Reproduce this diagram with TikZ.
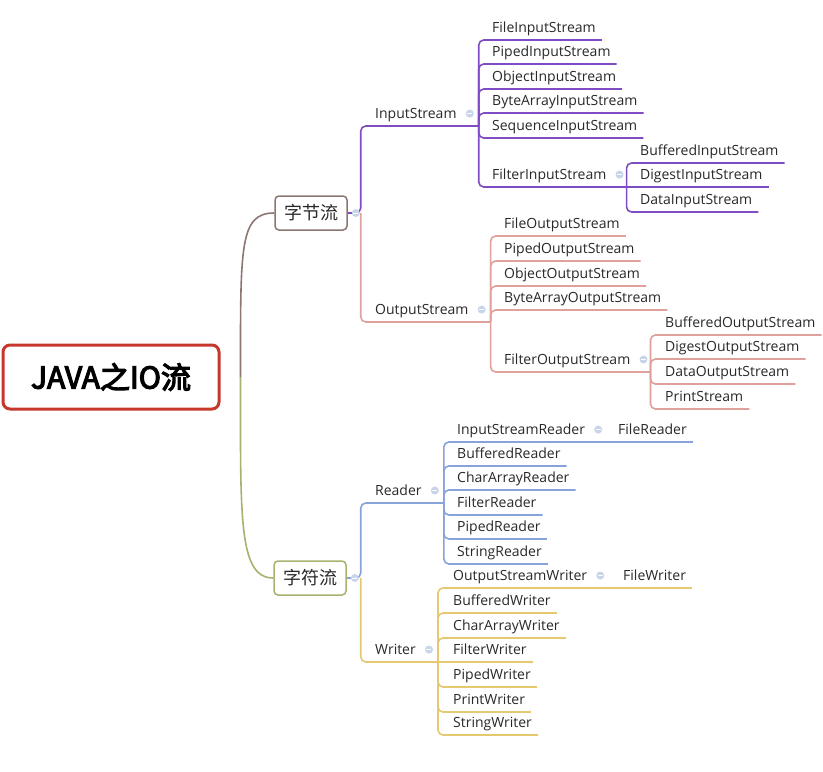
\documentclass[tikz,border=0pt]{standalone}
\usepackage{fontspec}
\setmainfont{Open Sans}
\newfontfamily\cjk{Noto Sans CJK SC}
\newfontfamily\cjkbold{Noto Sans CJK SC}[FakeBold=4]
\usetikzlibrary{calc}

\definecolor{txt}{RGB}{40,40,40}
\definecolor{rootred}{RGB}{198,56,44}
\definecolor{bytegray}{RGB}{140,118,114}
\definecolor{chargreen}{RGB}{170,176,110}
\definecolor{inpurple}{RGB}{128,76,196}
\definecolor{outpink}{RGB}{224,160,156}
\definecolor{rdblue}{RGB}{136,162,218}
\definecolor{wrgold}{RGB}{230,200,112}
\definecolor{markfill}{RGB}{200,212,234}

\tikzset{
  leaf/.style={anchor=south west, inner xsep=6pt, inner ysep=3.5pt, text height=10pt, text depth=3.5pt, text=txt, font=\fontsize{14}{16}\selectfont},
  topic/.style={draw, rounded corners=4pt, line width=1.5pt, minimum width=72pt, minimum height=34pt, text=txt, font=\cjk\fontsize{18}{21}\selectfont},
  minus/.style={circle, fill=markfill, minimum size=8pt, inner sep=0pt,
    path picture={\draw[white, line width=1pt] ([xshift=-2.5pt]path picture bounding box.center) -- ([xshift=2.5pt]path picture bounding box.center);}},
  br/.style={line width=1.6pt, rounded corners=5pt},
}

\begin{document}
\begin{tikzpicture}[x=1pt,y=-1pt]
  \useasboundingbox (0,0) rectangle (823,772);

  % main topics
  \node[draw=rootred, line width=3pt, rounded corners=7pt, minimum width=216pt, minimum height=64pt, text=black, font=\cjkbold\fontsize{30}{34}\selectfont] (root) at (111,377) {JAVA之IO流};
  \node[topic, draw=bytegray] (zjl) at (311,213) {字节流};
  \node[topic, draw=chargreen] (zfl) at (310,578) {字符流};

  \draw[line width=1.6pt, bytegray] ([xshift=20pt]root.east) .. controls +(0,-130) and +(-35,0) .. (zjl.west);
  \draw[line width=1.6pt, chargreen] ([xshift=20pt]root.east) .. controls +(0,140) and +(-35,0) .. (zfl.west);

  \coordinate (zjlF) at ([xshift=13pt]zjl.east);
  \coordinate (zflF) at ([xshift=14pt]zfl.east);

  % InputStream
  \node[leaf] (in) at (369,126) {InputStream};
  \coordinate (inF) at ([xshift=16pt]in.south east);
  \node[leaf] (fis) at (486,40) {FileInputStream};
  \node[leaf] (pis) at (486,64) {PipedInputStream};
  \node[leaf] (ois) at (486,89) {ObjectInputStream};
  \node[leaf] (bis) at (486,113) {ByteArrayInputStream};
  \node[leaf] (sis) at (486,138) {SequenceInputStream};
  \node[leaf] (flis) at (486,187) {FilterInputStream};
  \coordinate (flisF) at ([xshift=14pt]flis.south east);
  \node[leaf] (bufis) at (634,163) {BufferedInputStream};
  \node[leaf] (dgis) at (634,187) {DigestInputStream};
  \node[leaf] (dis) at (634,212) {DataInputStream};

  \draw[br, inpurple] (zjl.east) -- (zjlF) |- (inF);
  \foreach \n in {fis,pis,ois,bis,sis}
    \draw[br, inpurple] (inF) |- (\n.south east);
  \draw[br, inpurple] (inF) |- (flisF);
  \draw[br, inpurple] (flisF) |- (bufis.south east);
  \draw[br, inpurple] (flisF) -- (dgis.south east);
  \draw[br, inpurple] (flisF) |- (dis.south east);

  % OutputStream
  \node[leaf] (out) at (369,322) {OutputStream};
  \coordinate (outF) at ([xshift=16pt]out.south east);
  \node[leaf] (fos) at (498,236) {FileOutputStream};
  \node[leaf] (pos) at (498,261) {PipedOutputStream};
  \node[leaf] (oos) at (498,286) {ObjectOutputStream};
  \node[leaf] (bos) at (498,310) {ByteArrayOutputStream};
  \node[leaf] (flos) at (498,372) {FilterOutputStream};
  \coordinate (flosF) at ([xshift=14pt]flos.south east);
  \node[leaf] (bufos) at (659,335) {BufferedOutputStream};
  \node[leaf] (dgos) at (659,359) {DigestOutputStream};
  \node[leaf] (dos) at (659,384) {DataOutputStream};
  \node[leaf] (ps) at (659,409) {PrintStream};

  \draw[br, outpink] (zjlF) |- (outF);
  \foreach \n in {fos,pos,oos,bos}
    \draw[br, outpink] (outF) |- (\n.south east);
  \draw[br, outpink] (outF) |- (flosF);
  \foreach \n in {bufos,dgos,dos,ps}
    \draw[br, outpink] (flosF) |- (\n.south east);

  % Reader
  \node[leaf] (rd) at (369,503) {Reader};
  \coordinate (rdF) at ([xshift=16pt]rd.south east);
  \node[leaf] (isr) at (451,442) {InputStreamReader};
  \coordinate (isrF) at ([xshift=16pt]isr.south east);
  \node[leaf] (filerd) at (612,442) {FileReader};
  \node[leaf] (bufrd) at (451,466) {BufferedReader};
  \node[leaf] (carrd) at (451,490) {CharArrayReader};
  \node[leaf] (fltrd) at (451,515) {FilterReader};
  \node[leaf] (piprd) at (451,539) {PipedReader};
  \node[leaf] (strrd) at (451,564) {StringReader};

  \draw[br, rdblue] (zfl.east) -- (zflF) |- (rdF);
  \draw[br, rdblue] (rdF) |- (isrF);
  \foreach \n in {bufrd,carrd,fltrd,piprd,strrd}
    \draw[br, rdblue] (rdF) |- (\n.south east);
  \draw[br, rdblue] (isrF) -- (filerd.south east);

  % Writer
  \node[leaf] (wr) at (369,662) {Writer};
  \coordinate (wrF) at ([xshift=16pt]wr.south east);
  \node[leaf] (osw) at (447,588) {OutputStreamWriter};
  \coordinate (oswF) at ([xshift=16pt]osw.south east);
  \node[leaf] (filewr) at (617,588) {FileWriter};
  \node[leaf] (bufwr) at (447,613) {BufferedWriter};
  \node[leaf] (carwr) at (447,638) {CharArrayWriter};
  \node[leaf] (fltwr) at (447,662) {FilterWriter};
  \node[leaf] (pipwr) at (447,687) {PipedWriter};
  \node[leaf] (prtwr) at (447,712) {PrintWriter};
  \node[leaf] (strwr) at (447,735) {StringWriter};

  \draw[br, wrgold] (zflF) |- (wrF);
  \draw[br, wrgold] (wrF) |- (oswF);
  \foreach \n in {bufwr,carwr,pipwr,prtwr,strwr}
    \draw[br, wrgold] (wrF) |- (\n.south east);
  \draw[br, wrgold] (wrF) -- (fltwr.south east);
  \draw[br, wrgold] (oswF) -- (filewr.south east);

  % collapse markers
  \node[minus] at ([xshift=8pt]zjl.east) {};
  \node[minus] at ([xshift=8pt]zfl.east) {};
  \foreach \n in {in,flis,out,flos,rd,isr,wr,osw}
    \node[minus] at ([xshift=7pt,yshift=2pt]\n.east) {};
\end{tikzpicture}
\end{document}
